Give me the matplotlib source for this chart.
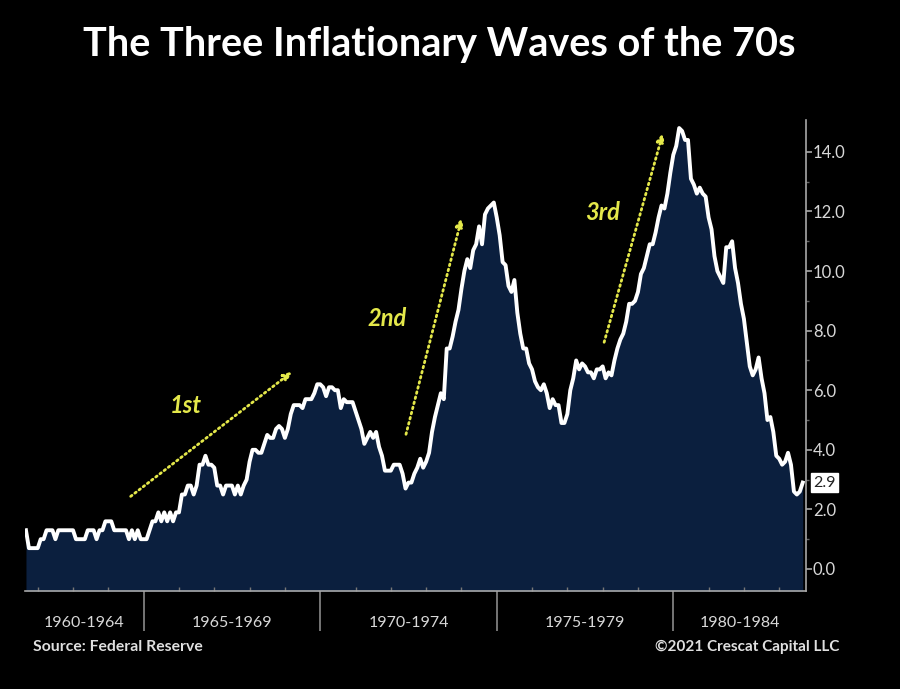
import matplotlib
matplotlib.use("Agg")
import matplotlib.pyplot as plt
import numpy as np

plt.rcParams['font.family'] = ['Lato', 'DejaVu Sans']

# US CPI YoY %, monthly, Sep 1961 .. Sep 1983
start_year = 1961
start_month = 9
cpi = [
    1.3, 0.7, 0.7, 0.7,                                            # 1961 Sep-Dec
    0.7, 1.0, 1.0, 1.3, 1.3, 1.3, 1.0, 1.3, 1.3, 1.3, 1.3, 1.3,    # 1962
    1.3, 1.0, 1.0, 1.0, 1.0, 1.3, 1.3, 1.3, 1.0, 1.3, 1.3, 1.6,    # 1963
    1.6, 1.6, 1.3, 1.3, 1.3, 1.3, 1.3, 1.0, 1.3, 1.0, 1.3, 1.0,    # 1964
    1.0, 1.0, 1.3, 1.6, 1.6, 1.9, 1.6, 1.9, 1.6, 1.9, 1.6, 1.9,    # 1965
    1.9, 2.5, 2.5, 2.8, 2.8, 2.5, 2.8, 3.5, 3.5, 3.8, 3.5, 3.5,    # 1966
    3.4, 2.8, 2.8, 2.5, 2.8, 2.8, 2.8, 2.5, 2.8, 2.5, 2.8, 3.0,    # 1967
    3.6, 4.0, 4.0, 3.9, 3.9, 4.2, 4.5, 4.4, 4.4, 4.7, 4.8, 4.7,    # 1968
    4.4, 4.7, 5.2, 5.5, 5.5, 5.5, 5.4, 5.7, 5.7, 5.7, 5.9, 6.2,    # 1969
    6.2, 6.1, 5.8, 6.1, 6.1, 6.0, 6.0, 5.4, 5.7, 5.6, 5.6, 5.6,    # 1970
    5.3, 5.0, 4.7, 4.2, 4.4, 4.6, 4.4, 4.6, 4.1, 3.8, 3.3, 3.3,    # 1971
    3.3, 3.5, 3.5, 3.5, 3.2, 2.7, 2.9, 2.9, 3.2, 3.4, 3.7, 3.4,    # 1972
    3.6, 3.9, 4.6, 5.1, 5.5, 5.9, 5.7, 7.4, 7.4, 7.8, 8.3, 8.7,    # 1973
    9.4, 10.0, 10.4, 10.1, 10.7, 10.9, 11.5, 10.9, 11.9, 12.1, 12.2, 12.3,  # 1974
    11.8, 11.2, 10.3, 10.2, 9.5, 9.3, 9.7, 8.6, 7.9, 7.4, 7.4, 6.9,         # 1975
    6.7, 6.3, 6.1, 6.0, 6.2, 5.9, 5.4, 5.7, 5.5, 5.5, 4.9, 4.9,    # 1976
    5.2, 6.0, 6.4, 7.0, 6.7, 6.9, 6.8, 6.6, 6.6, 6.4, 6.7, 6.7,    # 1977
    6.8, 6.4, 6.6, 6.5, 7.0, 7.4, 7.7, 7.9, 8.3, 8.9, 8.9, 9.0,    # 1978
    9.3, 9.9, 10.1, 10.5, 10.9, 10.9, 11.3, 11.8, 12.2, 12.1, 12.6, 13.3,   # 1979
    13.9, 14.2, 14.8, 14.7, 14.4, 14.4, 13.1, 12.9, 12.6, 12.8, 12.6, 12.5, # 1980
    11.8, 11.4, 10.5, 10.0, 9.8, 9.6, 10.8, 10.8, 11.0, 10.1, 9.6, 8.9,     # 1981
    8.4, 7.6, 6.8, 6.5, 6.7, 7.1, 6.4, 5.9, 5.0, 5.1, 4.6, 3.8,    # 1982
    3.7, 3.5, 3.6, 3.9, 3.5, 2.6, 2.5, 2.6, 2.9,                   # 1983 Jan-Sep
]

period_labels = ["1960-1964", "1965-1969", "1970-1974", "1975-1979", "1980-1984"]
period_starts = [1960, 1965, 1970, 1975, 1980]
y_ticks = [0, 2, 4, 6, 8, 10, 12, 14]

# wave arrows: (label, start(year, %), end(year, %), text(year, %))
waves = [
    ("1st", (1964.57, 2.38), (1969.27, 6.68), (1966.2, 5.5)),
    ("2nd", (1972.41, 4.43), (1974.03, 11.88), (1971.9, 8.4)),
    ("3rd", (1978.02, 7.52), (1979.73, 14.73), (1978.0, 11.95)),
]

t = start_year + (start_month - 1) / 12 + np.arange(len(cpi)) / 12
y = np.array(cpi)

navy = "#0b1f3e"
yellow = "#e4e84a"
grey = "#a8a8a8"
xmin, xmax = 1961.64, 1983.76
ymin, ymax = -0.74, 15.07

fig = plt.figure(figsize=(9, 6.89), dpi=100, facecolor="black")
ax = fig.add_axes([0.0278, 0.1422, 0.8678, 0.6836], facecolor="black")

ax.fill_between(t, y, ymin, color=navy, lw=0)
ax.plot(t, y, color="white", lw=2.8, solid_joinstyle="round")

ax.set_xlim(xmin, xmax)
ax.set_ylim(ymin, ymax)

for s in ["top", "left"]:
    ax.spines[s].set_visible(False)
for s in ["right", "bottom"]:
    ax.spines[s].set_color(grey)
    ax.spines[s].set_linewidth(1.2)

# right y axis
ax.yaxis.tick_right()
ax.set_yticks(y_ticks)
ax.set_yticklabels([f"{v:.1f}" for v in y_ticks])
ax.set_yticks(np.arange(1, 15, 2), minor=True)
ax.tick_params(axis="y", which="major", direction="out", length=4, width=1.2,
               color=grey, labelcolor="#d8d8d8", labelsize=12, pad=1)
ax.tick_params(axis="y", which="minor", direction="out", length=2.5, width=1,
               color="#666666")

# bottom: long separators at 5-year boundaries, small ticks per year
ax.set_xticks(period_starts[1:])
ax.set_xticklabels([])
ax.set_xticks(np.arange(1962, 1984), minor=True)
ax.tick_params(axis="x", which="major", direction="out", length=29, width=1.2, color="#8a8a8a")
ax.tick_params(axis="x", which="minor", direction="in", length=3, width=1, color="#777777")

edges = [xmin] + period_starts[1:] + [xmax]
for i, lab in enumerate(period_labels):
    ax.text((edges[i] + edges[i + 1]) / 2, -0.068, lab, transform=ax.get_xaxis_transform(),
            ha="center", va="center", color="#d8d8d8", fontsize=11.5)

# last value tag
ax.annotate(f"{y[-1]:.1f}", xy=(1, y[-1]), xycoords=("axes fraction", "data"),
            xytext=(5, 0), textcoords="offset points", ha="left", va="center",
            fontsize=11.5, color="#222222",
            bbox=dict(boxstyle="square,pad=0.15", fc="white", ec="white"))

for lab, p0, p1, pt in waves:
    ax.annotate("", xy=p1, xytext=p0,
                arrowprops=dict(arrowstyle="-|>,head_length=0.5,head_width=0.22",
                                color=yellow, lw=2.0, linestyle=(0, (0.6, 1.3))))
    ax.text(pt[0], pt[1], lab, color=yellow, fontsize=17, fontweight="bold",
            fontstyle="italic", ha="center", va="center")

fig.text(0.488, 0.935, "The Three Inflationary Waves of the 70s", color="white",
         fontsize=28.5, fontweight="bold", ha="center", va="center")
fig.text(0.037, 0.061, "Source: Federal Reserve", color="#e0e0e0", fontsize=11.3,
         fontweight="bold", ha="left", va="center")
fig.text(0.933, 0.061, "\u00a92021 Crescat Capital LLC", color="#e0e0e0", fontsize=11,
         fontweight="bold", ha="right", va="center")

fig.savefig("out.png", dpi=100, facecolor="black")
